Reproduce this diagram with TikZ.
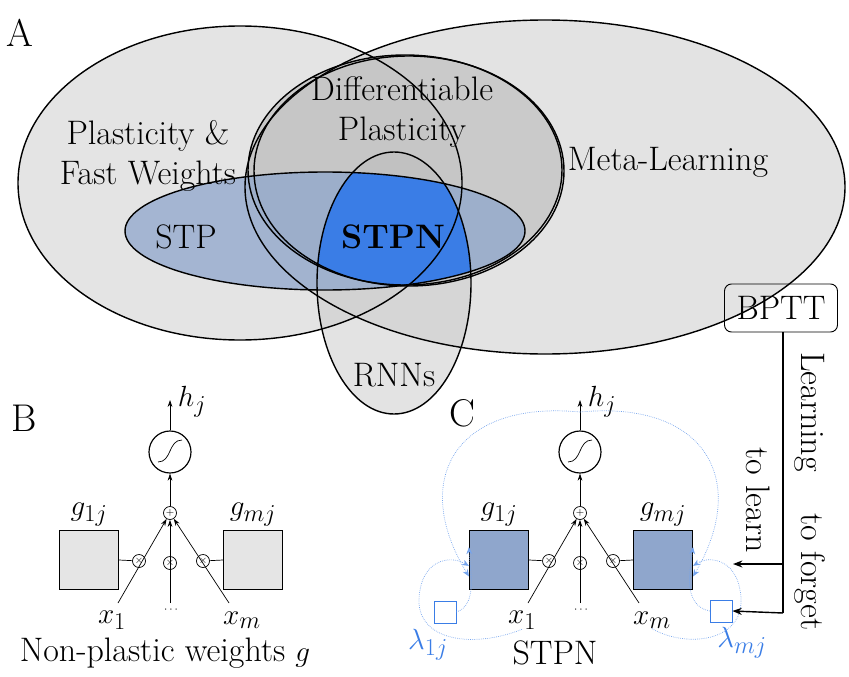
\documentclass[tikz,border=0pt]{standalone}
\usetikzlibrary{arrows.meta,shapes.geometric}
\definecolor{bl}{HTML}{3A7DE6}
\definecolor{stp}{HTML}{8FA6CC}
\begin{document}
\begin{tikzpicture}[x=0.03cm,y=-0.03cm,
  every node/.style={font=\fontsize{29}{33}\selectfont, inner sep=0pt},
  letter/.style={font=\fontsize{33}{36}\selectfont},
  ell/.style={draw=black, line width=1.2pt},
  box/.style={draw=black, line width=1pt, minimum width=59*0.03cm, minimum height=59*0.03cm, inner sep=0pt},
  op/.style={circle, draw, line width=0.6pt, minimum size=13*0.03cm, inner sep=0pt, font=\fontsize{9}{9}\selectfont},
  sig/.style={circle, draw, line width=1pt, minimum size=42*0.03cm},
  conn/.style={line width=0.6pt, -{Stealth[length=6pt,width=4pt]}},
  wire/.style={line width=0.6pt},
  dot/.style={bl!70, densely dotted, line width=0.6pt},
  dota/.style={dot, -{Stealth[length=6pt,width=5pt]}},
  lam/.style={draw=bl, line width=0.7pt, minimum width=22*0.03cm, minimum height=22*0.03cm},
  bp/.style={line width=1.2pt, -{Stealth[length=8pt,width=6pt]}}]
\useasboundingbox (0,0) rectangle (849,676);
% --- Panel A ---
\fill[gray!22] (545,187) ellipse [x radius=300, y radius=167];
\fill[gray!30, fill opacity=0.7] (240,183) ellipse [x radius=222, y radius=157];
\fill[gray!40, fill opacity=0.55] (394,283) ellipse [x radius=77, y radius=131];
\fill[gray!60, fill opacity=0.5] (405,170) ellipse [x radius=157, y radius=115];
\fill[stp, fill opacity=0.75] (325,231) ellipse [x radius=200, y radius=59];
\begin{scope}
 \clip (325,231) ellipse [x radius=200, y radius=59];
 \clip (394,283) ellipse [x radius=77, y radius=131];
 \clip (405,170) ellipse [x radius=157, y radius=115];
 \fill[bl] (0,0) rectangle (849,676);
\end{scope}
\draw[ell] (545,187) ellipse [x radius=300, y radius=167];
\draw[ell] (240,183) ellipse [x radius=222, y radius=157];
\draw[ell] (405,170) ellipse [x radius=157, y radius=115];
\draw[ell] (409,171) ellipse [x radius=155, y radius=115];
\draw[ell] (325,231) ellipse [x radius=200, y radius=59];
\draw[ell] (394,283) ellipse [x radius=77, y radius=131];
\node[letter] (lA) at (20,33) {A};
\node[align=center] (tPF) at (148,156) {Plasticity \&\\[1pt]Fast Weights};
\node[align=center] (tDP) at (402,112) {Differentiable\\[1pt]Plasticity};
\node (tML) at (668,162) {Meta-Learning};
\node (tSTP) at (186,237) {STP};
\node (tSTPN) at (393,237) {\textbf{STPN}};
\node (tRNN) at (394,375) {RNNs};
% --- Panel B ---
\node[letter] (lB) at (24,418) {B};
\node[box, fill=gray!20] (g1B) at (89,560) {};
\node[box, fill=gray!20] (gmB) at (253,560) {};
\node[anchor=south] at (g1B.north) [yshift=3pt] {$g_{1j}$};
\node[anchor=south] at (gmB.north) [yshift=3pt] {$g_{mj}$};
\node[sig] (sB) at (170,452) {};
\draw[line width=0.6pt] ([shift={(-12,10)}]sB.center) .. controls ([shift={(2,10)}]sB.center) and ([shift={(-2,-12)}]sB.center) .. ([shift={(12,-12)}]sB.center);
\node[op] (pB) at (170,513) {$+$};
\node[op] (t1B) at (139,561) {$\times$};
\node[op] (t2B) at (170,563) {$\times$};
\node[op] (t3B) at (203,561) {$\times$};
\coordinate (x1sB) at (118,603);
\coordinate (xmsB) at (229,603);
\coordinate (x2sB) at (170,603);
\node (x1B) at (112,620) {$x_1$};
\node (xmB) at (242,620) {$x_m$};
\node[font=\fontsize{10}{10}\selectfont] (dB) at (171,610) {$\cdots$};
\draw[conn] (x1sB) -- (pB);
\draw[conn] (xmsB) -- (pB);
\draw[conn] (x2sB) -- (pB);
\draw[wire] (g1B.east) -- (t1B);
\draw[wire] (gmB.west) -- (t3B);
\draw[conn] (pB) -- (sB);
\coordinate (hB) at (170,400);
\draw[conn] (sB) -- (hB);
\node (hjB) at (192,402) {$h_j$};
\node (capB) at (165,653) {Non-plastic weights $g$};
% --- Panel C ---
\node[letter] (lC) at (462,413) {C};
\node[box, fill=stp] (g1C) at (499,560) {};
\node[box, fill=stp] (gmC) at (663,560) {};
\node[anchor=south] at (g1C.north) [yshift=3pt] {$g_{1j}$};
\node[anchor=south] at (gmC.north) [yshift=3pt] {$g_{mj}$};
\node[sig] (sC) at (580,452) {};
\draw[line width=0.6pt] ([shift={(-12,10)}]sC.center) .. controls ([shift={(2,10)}]sC.center) and ([shift={(-2,-12)}]sC.center) .. ([shift={(12,-12)}]sC.center);
\node[op] (pC) at (580,513) {$+$};
\node[op] (t1C) at (549,561) {$\times$};
\node[op] (t2C) at (580,563) {$\times$};
\node[op] (t3C) at (613,561) {$\times$};
\coordinate (x1sC) at (528,603);
\coordinate (xmsC) at (639,603);
\coordinate (x2sC) at (580,603);
\node (x1C) at (522,620) {$x_1$};
\node (xmC) at (652,620) {$x_m$};
\node[font=\fontsize{10}{10}\selectfont] (dC) at (581,610) {$\cdots$};
\draw[conn] (x1sC) -- (pC);
\draw[conn] (xmsC) -- (pC);
\draw[conn] (x2sC) -- (pC);
\draw[wire] (g1C.east) -- (t1C);
\draw[wire] (gmC.west) -- (t3C);
\draw[conn] (pC) -- (sC);
\coordinate (hC) at (580,400);
\draw[conn] (sC) -- (hC);
\node (hjC) at (602,402) {$h_j$};
\node (capC) at (555,653) {STPN};
\node[lam] (l1) at (445,612) {};
\node[lam] (lm) at (721,611) {};
\node[text=bl] (l1t) at (428,645) {$\lambda_{1j}$};
\node[text=bl] (lmt) at (742,643) {$\lambda_{mj}$};
% dotted feedback curves
\coordinate (topC) at (580,412);
\draw[dota] (topC) .. controls (455,400) and (410,480) .. ([yshift=-14]g1C.west);
\draw[dota] (topC) .. controls (705,400) and (750,480) .. ([yshift=-14]gmC.east);
\draw[dota] (x1C.south) .. controls (470,650) and (410,640) .. (420,590) .. controls (425,560) and (450,555) .. ([yshift=-5]g1C.west);
\draw[dota] (xmC.south) .. controls (690,650) and (750,640) .. (740,590) .. controls (735,560) and (710,555) .. ([yshift=-5]gmC.east);
\draw[dota] (l1.east) .. controls (478,605) and (470,570) .. ([yshift=11]g1C.west);
\draw[dota] (lm.west) .. controls (682,605) and (690,570) .. ([yshift=11]gmC.east);
% BPTT
\node[draw, rounded corners=6pt, line width=0.8pt, minimum width=113*0.03cm, minimum height=48*0.03cm] (bptt) at (781,308) {BPTT};
\coordinate (jL) at (783,564);
\coordinate (jF) at (783,613);
\draw[line width=1.2pt] (bptt.south -| jL) -- (jF);
\coordinate (aL) at (733,564);
\draw[bp] (jL) -- (aL);
\draw[bp] (jF) -- (lm.east);
\node[rotate=-90] (tLearn) at (810,412) {Learning};
\node[rotate=-90] (tTL) at (758,500) {to learn};
\node[rotate=-90] (tTF) at (810,572) {to forget};
\end{tikzpicture}
\end{document}
